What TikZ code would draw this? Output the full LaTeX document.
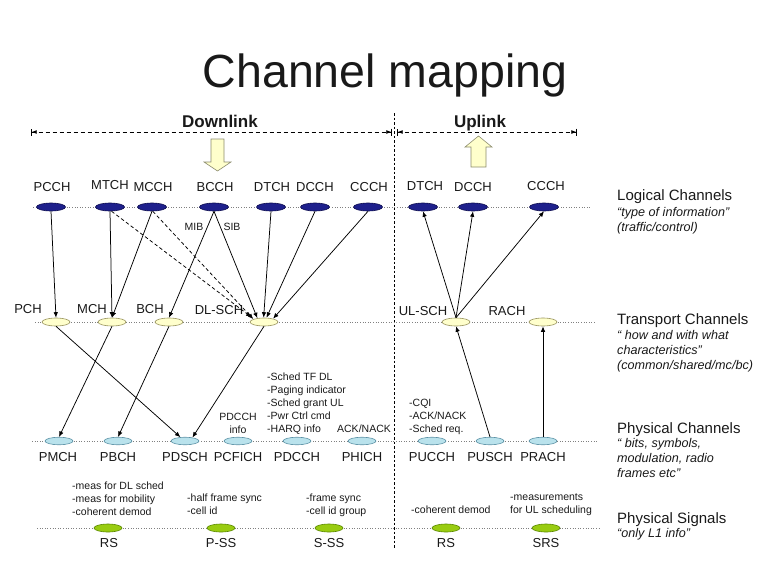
\documentclass[tikz,border=0pt]{standalone}
\usepackage{fontspec}
\setmainfont{Liberation Sans}
\usetikzlibrary{shapes.geometric,arrows.meta}
\definecolor{lnavy}{RGB}{30,32,140}
\definecolor{lnavyd}{RGB}{15,15,80}
\definecolor{tfill}{RGB}{255,255,204}
\definecolor{tline}{RGB}{150,145,90}
\definecolor{pfill}{RGB}{185,226,236}
\definecolor{pline}{RGB}{90,145,165}
\definecolor{sfill}{RGB}{153,204,17}
\definecolor{sline}{RGB}{90,135,0}
\definecolor{txt}{RGB}{25,25,25}
\definecolor{arrline}{RGB}{140,140,110}
\begin{document}
\begin{tikzpicture}[x=1pt,y=-1pt,
  every node/.style={inner sep=0pt, text=txt},
  chan/.style={ellipse, minimum width=29pt, minimum height=8pt, inner sep=0pt, line width=0.6pt},
  logc/.style={chan, fill=lnavy, draw=lnavyd},
  trc/.style={chan, minimum width=28pt, fill=tfill, draw=tline},
  phc/.style={chan, minimum width=28pt, minimum height=7.5pt, fill=pfill, draw=pline},
  sgc/.style={chan, minimum width=28pt, fill=sfill, draw=sline},
  lbl/.style={font=\fontsize{13}{15}\selectfont, text height=9.3pt, text depth=0pt},
  smalltxt/.style={font=\fontsize{10.5}{12}\selectfont, text height=7.5pt, text depth=0pt},
  note/.style={font=\fontsize{10.5}{13}\selectfont, align=left, anchor=north west},
  rowline/.style={gray, dotted, line width=0.6pt},
  conn/.style={line width=0.75pt, -{Latex[length=5.5pt,width=4.5pt]}},
  dconn/.style={conn, dash pattern=on 3.5pt off 2.5pt},
  head/.style={font=\bfseries\fontsize{17}{20}\selectfont, text height=12.3pt, text depth=0pt},
  hdr/.style={line width=0.7pt, dash pattern=on 4pt off 3pt, {Bar[width=7pt]Latex[length=5pt,width=4pt]}-{Latex[length=5pt,width=4pt]Bar[width=7pt]}},
  ltitle/.style={font=\fontsize{15}{17}\selectfont, anchor=base west},
  ldesc/.style={font=\itshape\fontsize{12.6}{15}\selectfont, align=left, anchor=north west},
  blockarrow/.style={fill=tfill, draw=arrline, line width=0.6pt}
]
\useasboundingbox (0,0) rectangle (768,576);

% title
\node[font=\fontsize{46.5}{50}\selectfont, anchor=base] (title) at (385,87) {Channel mapping};

% header
\node[head] (dl) at (220,121) {Downlink};
\node[head] (ul) at (480,121) {Uplink};
\coordinate (dlL) at (31,132); \coordinate (dlR) at (392,132);
\coordinate (ulL) at (397,132); \coordinate (ulR) at (577,132);
\draw[hdr] (dlL) -- (dlR);
\draw[hdr] (ulL) -- (ulR);
\coordinate (vtop) at (394,113); \coordinate (vbot) at (394,548);
\draw[black, line width=0.6pt, dash pattern=on 2.5pt off 2pt] (vtop) -- (vbot);

% block arrows
\draw[blockarrow] (211,139) -- (224,139) -- (224,162) -- (231,162) -- (217.5,171) -- (204,162) -- (211,162) -- cycle;
\draw[blockarrow] (471,167) -- (486,167) -- (486,147) -- (492,147) -- (478.5,136) -- (465,147) -- (471,147) -- cycle;

% row lines
\coordinate (r1a) at (33,207); \coordinate (r1b) at (590,207);
\coordinate (r2a) at (35,322); \coordinate (r2b) at (595,322);
\coordinate (r3a) at (32,441); \coordinate (r3b) at (597,441);
\coordinate (r4a) at (37,528); \coordinate (r4b) at (600,528);
\draw[rowline] (r1a) -- (r1b);
\draw[rowline] (r2a) -- (r2b);
\draw[rowline] (r3a) -- (r3b);
\draw[rowline] (r4a) -- (r4b);

% logical channels
\node[logc] (pcch) at (51,207) {};
\node[logc] (mtch) at (110,207) {};
\node[logc] (mcch) at (152,207) {};
\node[logc] (bcch) at (214,207) {};
\node[logc] (dtch) at (271,207) {};
\node[logc] (dcch) at (315,207) {};
\node[logc] (ccch) at (368,207) {};
\node[logc] (dtchu) at (423,207) {};
\node[logc] (dcchu) at (473,207) {};
\node[logc] (ccchu) at (544,207) {};
\node[lbl] (pcchl) at (52,187) {PCCH};
\node[lbl] (mtchl) at (110,185) {MTCH};
\node[lbl] (mcchl) at (153,187) {MCCH};
\node[lbl] (bcchl) at (215,187) {BCCH};
\node[lbl] (dtchl) at (272,187) {DTCH};
\node[lbl] (dcchl) at (315,187) {DCCH};
\node[lbl] (ccchl) at (369,187) {CCCH};
\node[lbl] (dtchul) at (425,186) {DTCH};
\node[lbl] (dcchul) at (473,187) {DCCH};
\node[lbl] (ccchul) at (546,186) {CCCH};

% transport channels
\node[trc] (pch) at (56,322) {};
\node[trc] (mch) at (112,322) {};
\node[trc] (bch) at (169,322) {};
\node[trc] (dlsch) at (264,322) {};
\node[trc] (ulsch) at (456,322) {};
\node[trc] (rach) at (543,322) {};
\node[lbl] (pchl) at (28,309) {PCH};
\node[lbl] (mchl) at (92,309) {MCH};
\node[lbl] (bchl) at (150,309) {BCH};
\node[lbl] (dlschl) at (219,310) {DL-SCH};
\node[lbl] (ulschl) at (423,311) {UL-SCH};
\node[lbl] (rachl) at (507,311) {RACH};
\node[smalltxt] (mib) at (194,227) {MIB};
\node[smalltxt] (sib) at (232,227) {SIB};

% physical channels
\node[phc] (pmch) at (59,441) {};
\node[phc] (pbch) at (118,441) {};
\node[phc] (pdsch) at (185,441) {};
\node[phc] (pcfich) at (238,441) {};
\node[phc] (pdcch) at (297,441) {};
\node[phc] (phich) at (362,441) {};
\node[phc] (pucch) at (432,441) {};
\node[phc] (pusch) at (490,441) {};
\node[phc] (prach) at (543,441) {};
\node[lbl] (pmchl) at (58,457) {PMCH};
\node[lbl] (pbchl) at (118,457) {PBCH};
\node[lbl] (pdschl) at (185,457) {PDSCH};
\node[lbl] (pcfichl) at (238,457) {PCFICH};
\node[lbl] (pdcchl) at (297,457) {PDCCH};
\node[lbl] (phichl) at (362,457) {PHICH};
\node[lbl] (pucchl) at (432,457) {PUCCH};
\node[lbl] (puschl) at (490,457) {PUSCH};
\node[lbl] (prachl) at (543,457) {PRACH};

% physical signals
\node[sgc] (rs) at (108,528) {};
\node[sgc] (pss) at (221,528) {};
\node[sgc] (sss) at (329,528) {};
\node[sgc] (rsu) at (446,528) {};
\node[sgc] (srs) at (546,528) {};
\node[lbl] (rsl) at (109,543) {RS};
\node[lbl] (pssl) at (221,543) {P-SS};
\node[lbl] (sssl) at (329,543) {S-SS};
\node[lbl] (rsul) at (446,543) {RS};
\node[lbl] (srsl) at (546,543) {SRS};

% notes
\node[note] (dlnote) at (267,373) {-Sched TF DL\\-Paging indicator\\-Sched grant UL\\-Pwr Ctrl cmd\\-HARQ info};
\node[font=\fontsize{10.5}{13}\selectfont, align=center, anchor=north] (pdcchinfo) at (238,413) {PDCCH\\info};
\node[smalltxt] (acknack) at (364,429) {ACK/NACK};
\node[note] (ulnote) at (409,399) {-CQI\\-ACK/NACK\\-Sched req.};
\node[note] (rsnote) at (72,482) {-meas for DL sched\\-meas for mobility\\-coherent demod};
\node[note] (pssnote) at (187,494) {-half frame sync\\-cell id};
\node[note] (sssnote) at (306,494) {-frame sync\\-cell id group};
\node[smalltxt, anchor=west] (rsunote) at (411,510) {-coherent demod};
\node[note] (srsnote) at (510,494) {-measurements\\for UL scheduling};

% right-hand descriptions
\node[ltitle] (lt1) at (617,200) {Logical Channels};
\node[ldesc] (ld1) at (617,207.5) {“type of information”\\(traffic/control)};
\node[ltitle] (lt2) at (617,324) {Transport Channels};
\node[ldesc] (ld2) at (617,330.5) {“ how and with what\\characteristics”\\(common/shared/mc/bc)};
\node[ltitle] (lt3) at (617,433) {Physical Channels};
\node[ldesc] (ld3) at (617,438.5) {“ bits, symbols,\\modulation, radio\\frames etc”};
\node[ltitle] (lt4) at (617,523) {Physical Signals};
\node[ldesc] (ld4) at (617,528.5) {“only L1 info”};

% logical -> transport (downlink)
\draw[conn] (pcch.south) -- (pch.north);
\draw[conn] (mtch.south) -- (mch.north);
\draw[conn] (mcch.south) -- (mch.north);
\draw[dconn, shorten >=3pt] (mtch.-70) -- (dlsch.north west);
\draw[dconn] (mcch.-80) -- (dlsch.165);
\draw[conn] (bcch.south) -- (bch.north);
\draw[conn] (bcch.south) -- (dlsch.150);
\draw[conn] (dtch.south) -- (dlsch.95);
\draw[conn] (dcch.south) -- (dlsch.60);
\draw[conn] (ccch.south) -- (dlsch.20);

% transport -> logical (uplink)
\draw[conn] (ulsch.north) -- (dtchu.south);
\draw[conn] (ulsch.north) -- (dcchu.south);
\draw[conn] (ulsch.north) -- (ccchu.south);

% transport <-> physical
\draw[conn] (pch.south) -- (pdsch.140);
\draw[conn] (mch.south) -- (pmch.north);
\draw[conn] (bch.south) -- (pbch.north);
\draw[conn] (dlsch.south) -- (pdsch.25);
\draw[conn] (pusch.north) -- (ulsch.south);
\draw[conn] (prach.north) -- (rach.south);
\end{tikzpicture}
\end{document}
